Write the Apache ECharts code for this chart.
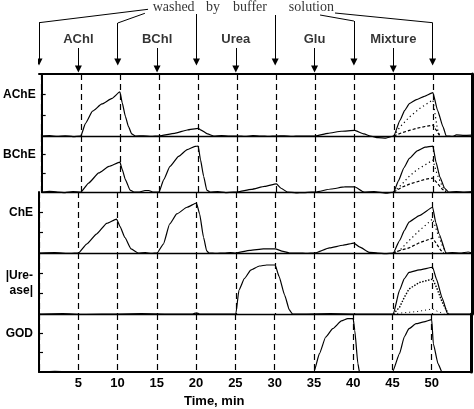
<!DOCTYPE html>
<html>
<head>
<meta charset="utf-8">
<script src="https://cdn.jsdelivr.net/npm/echarts@6/dist/echarts.min.js"></script>
<style>
html, body { margin: 0; padding: 0; background: #fff; }
#chart { width: 474px; height: 409px; }
</style>
</head>
<body>
<div id="chart"></div>
<script>
// panels, top to bottom
const panelNames = ['AChE', 'BChE', 'ChE', '|Ure-\nase|', 'GOD'];
const panelLabelAt = [2, 2, 2, 1.5, 2];

// events on the time axis (min)
const washTimes = [0, 10, 20, 30, 40, 50];
const addTimes = [5, 15, 25, 35, 45];
const addNames = ['AChl', 'BChl', 'Urea', 'Glu', 'Mixture'];
const washWords = ['washed', 'by', 'buffer', 'solution'];
const washWordTimes = [17.1, 22.1, 26.8, 34.6];
// where each wash arrow leaves the caption: [time, height]
const washFrom = [[13.85, 9.3], [13.45, 13.3], [20, 14], [30, 15], [35.7, 15], [37.6, 13]];
const washBend = [22.7, 23, null, null, 21, 22.7];

// signals, [time, response]
const acheLine = [[0,0],[1,0.02],[2,-0.02],[3,0.01],[4,-0.03],[5,0],[5.6,0.61],[6.5,1.2],[7.7,1.55],[9,1.82],[10,2.14],
  [10.3,1.6],[10.7,0.95],[11.1,0.45],[11.5,0.1],[12,0],[13,0.01],[14,-0.02],[15,0],[17,0.13],[18.6,0.29],[20,0.37],
  [20.3,0.3],[21.2,0.1],[22,0],[23,0.02],[24,0],[25,0],[26,-0.02],[27,0.02],[28,0],[29,-0.02],[30,0],[31,0.01],[32,-0.02],
  [33,0],[35,0],[36.6,0.13],[38.3,0.23],[40,0.27],[41.2,0.1],[42,0],[43,-0.08],[44,-0.1],[45,0],[45.8,0.76],[46.4,1.24],
  [47,1.57],[47.9,1.76],[48.9,1.92],[50,2.1],[50.6,1.24],[51.3,0.44],[51.7,0],[52.5,-0.02],[53,0.05],[54,0.03],[55,0.04]];
const acheDots = [[45,0],[45.8,0.44],[47,0.92],[48.3,1.33],[49.2,1.55],[50,1.75],[50.3,1.0],[50.6,0.3],[50.9,0]];
const acheDash = [[45,0],[46,0.15],[47,0.27],[48,0.38],[49,0.46],[50,0.53],[50.4,0.3],[50.9,0]];

const bcheLine = [[0,0],[1,0.03],[2,0],[3,-0.03],[4,0.02],[5,0],[6,0.48],[7.3,1.02],[8.6,1.37],[10,1.6],[10.3,1.2],
  [10.7,0.66],[11.3,0.1],[11.8,0],[12.5,0],[13.2,0.08],[13.7,0.08],[14.2,0],[15,0],[15.6,0.66],[16.4,1.37],[17.5,1.91],
  [18.6,2.27],[19.6,2.44],[20,2.46],[20.3,1.73],[20.7,0.84],[21.1,0.1],[21.5,0],[22.5,0.02],[23.5,-0.03],[24.5,0],[25,0],
  [26.8,0.14],[28.5,0.3],[30,0.44],[30.6,0.2],[31.4,0],[32.5,-0.05],[33.5,-0.03],[34.5,0],[35,0],[37,0.16],[38.7,0.27],
  [40,0.28],[41.2,0],[42.5,0.02],[44,-0.06],[45,0],[45.6,0.6],[46.3,1.3],[47,1.8],[48,2.2],[49,2.4],[50,2.46],[50.4,1.6],
  [50.9,0.8],[51.5,0.2],[52,0],[53,0.02],[54,0],[55,0.02]];
const bcheDots = [[45,0],[46,0.4],[47,0.85],[48,1.2],[49,1.45],[50,1.71],[50.5,1.0],[51.2,0.3],[51.7,0]];
const bcheDash = [[45,0],[46,0.25],[47,0.42],[48,0.55],[49,0.68],[50,0.75],[50.6,0.45],[51.2,0.15],[51.7,0]];

const cheLine = [[0,0],[2,0.02],[4,-0.02],[5,0],[6.05,0.44],[7.3,0.93],[8.6,1.46],[9.85,1.67],[10.3,1.3],[10.9,0.77],
  [11.7,0.2],[12.6,0],[13.5,0.02],[14.3,-0.02],[15,0],[15.8,0.44],[16.6,1.43],[17.5,1.92],[18.8,2.25],[20,2.46],
  [20.4,1.92],[20.9,0.77],[21.3,0.1],[21.6,0],[22.5,-0.02],[23.5,0],[24.3,0.02],[25,0],[26.8,0.13],[28.5,0.2],[30,0.2],
  [31,0.08],[31.8,0],[33,0],[34,-0.02],[35,0],[36.9,0.25],[38.6,0.38],[40,0.49],[40.7,0.3],[42,0.03],[43,0],[44,-0.03],
  [45,0],[45.8,0.61],[46.4,1.1],[47,1.52],[48.3,1.84],[50,2.25],[50.4,1.5],[50.8,0.96],[51.7,0],[52.5,0.02],[53.5,0],
  [54.5,0.05],[55,0]];
const cheDots = [[45,0],[45.8,0.12],[47,0.61],[48.3,1.1],[49.2,1.4],[50,1.68],[50.6,1.0],[51.2,0.4],[51.7,0]];
const cheDash = [[45,0],[45.8,0.12],[47,0.25],[48.3,0.5],[50,0.73],[50.5,0.45],[51,0.15],[51.4,0]];

const ureaseLine = [[0,0],[3,0.02],[6,-0.02],[10,0],[13,0.02],[16,0],[19.5,0],[20,0.06],[20.4,0],[23,0],[25,0],[25.4,1.18],
  [26.1,1.75],[26.9,2.16],[28,2.36],[28.9,2.41],[30,2.41],[30.5,1.84],[31.2,0.93],[31.8,0.2],[32.2,0],[34,0],[37,0.02],
  [40,0],[43,0],[45,0],[45.8,1.17],[46.4,1.74],[47,2.05],[48.3,2.17],[50,2.3],[50.5,1.7],[51.2,0.8],[51.9,0],[53,0],[55,0]];
const ureaseDots = [[45,0],[45.8,0.33],[46.4,0.82],[47,1.23],[48.3,1.55],[50,1.72],[50.5,1.3],[51.2,0.6],[52,0]];
const ureaseFine = [[45,0],[46,0.05],[48,0.12],[50,0.25],[50.5,0.15],[51.5,0]];

const godLine = [[0,0],[2,0.03],[5,0],[8,0.02],[12,0],[15,0.02],[20,0],[25,0],[30,0.02],[34,0],[35,0],[35.7,0.95],
  [36.5,1.81],[37.4,2.24],[38.5,2.64],[39.3,2.76],[40,2.76],[40.2,2.16],[40.6,0.43],[40.8,0],[43,0],[45,0],[45.9,0.95],
  [46.5,1.81],[47.1,2.24],[48,2.5],[49,2.59],[50,2.71],[50.2,1.47],[50.8,0.43],[51.3,0],[53,0],[55,0]];

const traces = [
  [0, acheLine, 'solid'], [0, acheDots, 'dots'], [0, acheDash, 'dash'],
  [1, bcheLine, 'solid'], [1, bcheDots, 'dots'], [1, bcheDash, 'dash'],
  [2, cheLine, 'solid'], [2, cheDots, 'dots'], [2, cheDash, 'dash'],
  [3, ureaseLine, 'solid'], [3, ureaseDots, 'heavy'], [3, ureaseFine, 'fine'],
  [4, godLine, 'solid']
];

const lineTypes = {
  solid: { type: 'solid', width: 1.2 },
  dots: { type: [1.2, 3], width: 1.2 },
  dash: { type: [3, 2], width: 1.2 },
  heavy: { type: [1.5, 1.5], width: 1.4 },
  fine: { type: [1, 3], width: 1 }
};

const tops = [74, 136, 192, 253, 314, 372];
const HEAD = 5;
const font = 'Liberation Sans, Arial, sans-serif';

const grid = panelNames.map((n, i) => ({ left: 39, right: 2, top: tops[i], height: tops[i + 1] - tops[i] }));
grid.push({ left: 39, right: 2, top: 0, height: 74 });

const xAxis = panelNames.map((n, i) => ({
  type: 'value', gridIndex: i, min: 0, max: 55, interval: 5,
  axisLine: { show: true, onZero: false, lineStyle: { color: '#000', width: i === 4 ? 2 : 1.3 } },
  axisTick: { show: false },
  axisLabel: {
    show: i === 4, color: '#000', fontSize: 13, fontWeight: 'bold', fontFamily: font, margin: 5,
    formatter: v => (v > 0 && v < 55 ? String(v) : '')
  },
  splitLine: { show: true, lineStyle: { color: '#000', width: 1.2, type: [6, 4] } }
}));
xAxis.push({
  type: 'value', gridIndex: HEAD, min: 0, max: 55,
  axisLine: { show: true, onZero: false, lineStyle: { color: '#000', width: 2 } },
  axisTick: { show: false }, axisLabel: { show: false }, splitLine: { show: false }
});

const yAxis = panelNames.map((n, i) => ({
  type: 'value', gridIndex: i, min: 0, max: 3, interval: 1,
  axisLine: { show: true, onZero: false, lineStyle: { color: '#000', width: 2 } },
  axisTick: { show: true, inside: true, length: 4, customValues: [1, 2], lineStyle: { color: '#000', width: 1.2 } },
  axisLabel: {
    show: true, customValues: [panelLabelAt[i]], formatter: () => n,
    color: '#000', fontSize: 12, fontWeight: 'bold', fontFamily: font, margin: 6, lineHeight: 15
  },
  splitLine: { show: false }
}));
panelNames.forEach((n, i) => yAxis.push({
  type: 'value', gridIndex: i, min: 0, max: 3, position: 'right',
  axisLine: { show: true, onZero: false, lineStyle: { color: '#000', width: 3 } },
  axisTick: { show: false }, axisLabel: { show: false }, splitLine: { show: false }
}));
yAxis.push({ type: 'value', gridIndex: HEAD, min: 0, max: 74, inverse: true, show: false });
const HEADY = yAxis.length - 1;

const series = traces.map(([p, data, kind]) => ({
  type: 'line', xAxisIndex: p, yAxisIndex: p, data: data, showSymbol: false, clip: false,
  smooth: kind === 'solid' ? 0.15 : 0, smoothMonotone: 'x',
  silent: true, lineStyle: Object.assign({ color: '#000' }, lineTypes[kind])
}));

// arrows above the plot: slanted leaders, then vertical arrows
const leaders = [];
const arrows = [];
washTimes.forEach((t, i) => {
  if (washBend[i] !== null) {
    leaders.push({ coords: [washFrom[i], [t, washBend[i]]] });
    arrows.push({ coords: [[t, washBend[i]], [t, 62]] });
  } else {
    arrows.push({ coords: [[t, washFrom[i][1]], [t, 62]] });
  }
});
addTimes.forEach(t => arrows.push({ coords: [[t, 48], [t, 69]] }));

series.push({
  type: 'lines', coordinateSystem: 'cartesian2d', xAxisIndex: HEAD, yAxisIndex: HEADY,
  silent: true, data: leaders, symbol: 'none',
  lineStyle: { color: '#000', width: 1, opacity: 1 }
});
series.push({
  type: 'lines', coordinateSystem: 'cartesian2d', xAxisIndex: HEAD, yAxisIndex: HEADY,
  silent: true, data: arrows, symbol: ['none', 'triangle'], symbolSize: [5, 7],
  itemStyle: { color: '#000' },
  lineStyle: { color: '#000', width: 1, opacity: 1 }
});
series.push({
  type: 'scatter', xAxisIndex: HEAD, yAxisIndex: HEADY, symbolSize: 0, silent: true,
  data: addNames.map((n, i) => ({ name: n, value: [addTimes[i], 39] })),
  label: { show: true, position: 'inside', formatter: '{b}', color: '#000', fontSize: 13, fontWeight: 'bold', fontFamily: font }
});
series.push({
  type: 'scatter', xAxisIndex: HEAD, yAxisIndex: HEADY, symbolSize: 0, silent: true,
  data: washWords.map((n, i) => ({ name: n, value: [washWordTimes[i], 7.5] })),
  label: { show: true, position: 'inside', formatter: '{b}', color: '#000', fontSize: 14, fontFamily: 'Liberation Serif, Times New Roman, serif' }
});

const chart = echarts.init(document.getElementById('chart'));
chart.setOption({
  animation: false,
  backgroundColor: '#fff',
  title: {
    text: 'Time, min', left: 184, top: 395, padding: 0,
    textStyle: { color: '#000', fontSize: 13, fontWeight: 'bold', fontFamily: font }
  },
  grid: grid,
  xAxis: xAxis,
  yAxis: yAxis,
  series: series
});
</script>
</body>
</html>
